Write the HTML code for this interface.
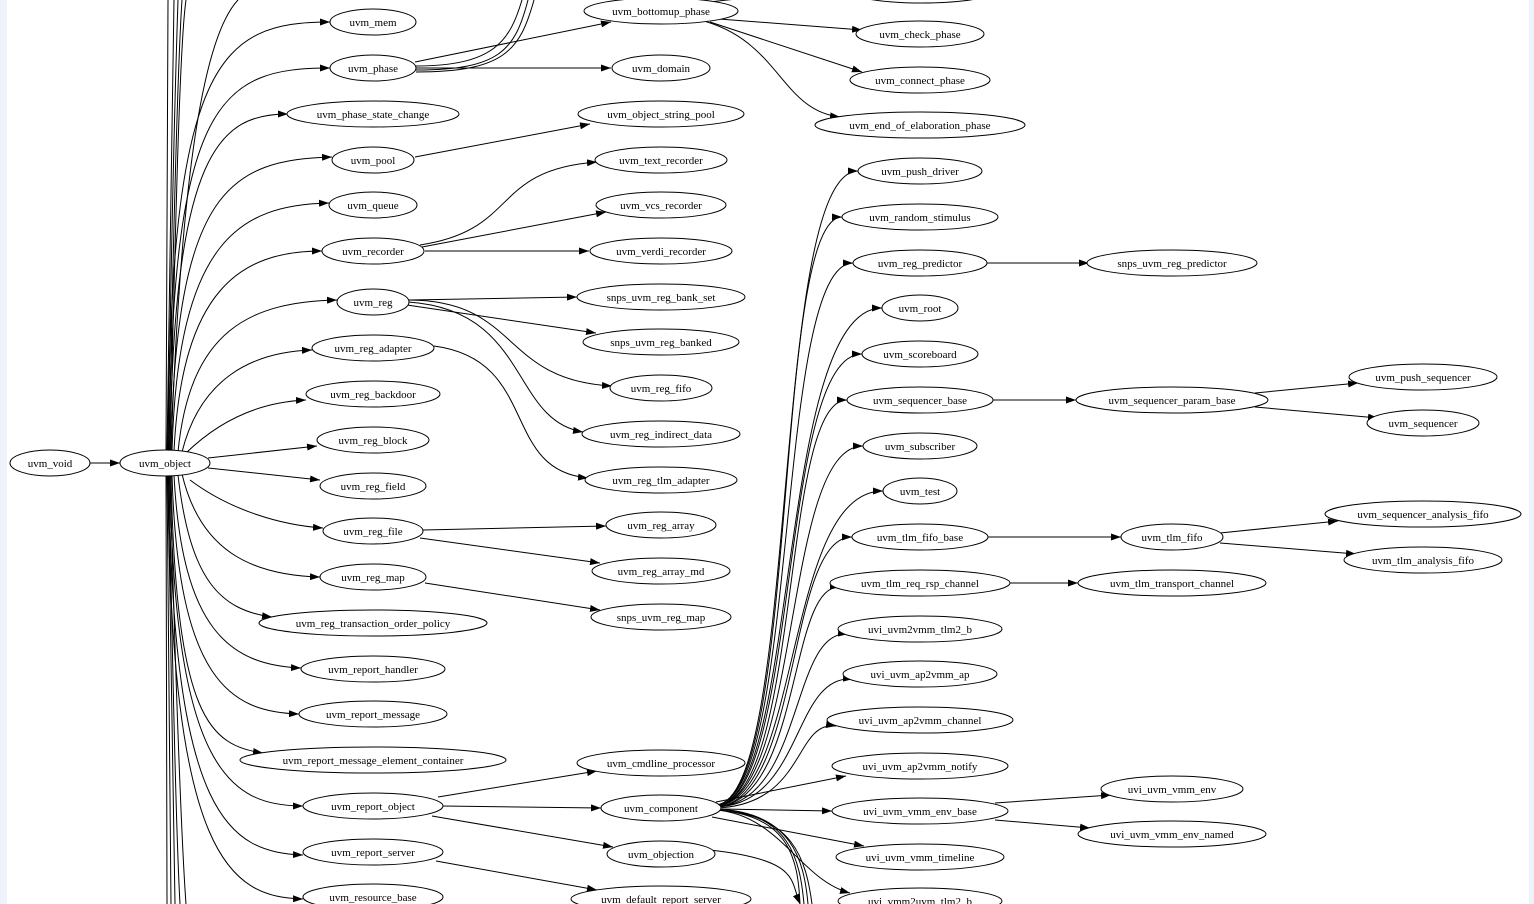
<!DOCTYPE html>
<html><head><meta charset="utf-8"><style>
html,body{margin:0;padding:0;background:#fff}
body{width:1534px;height:904px;overflow:hidden;position:relative}
.lb{position:absolute;left:0;top:0;width:7px;height:904px;background:#eef2fa}
.rb{position:absolute;right:0;top:0;width:5px;height:904px;background:#eef2fa}
svg{position:absolute;left:0;top:0}
text{font-family:"Liberation Serif",serif;font-size:11px;fill:#000}
ellipse{fill:#fff;stroke:#000;stroke-width:1}
path{fill:none;stroke:#000;stroke-width:1}
</style></head><body>
<div class="lb"></div><div class="rb"></div>
<svg width="1534" height="904" viewBox="0 0 1534 904">
<defs><marker id="a" markerWidth="10" markerHeight="7" refX="10" refY="3.5" orient="auto" markerUnits="userSpaceOnUse"><path d="M0,0L10,3.5L0,7z" style="fill:#000;stroke:none"/></marker></defs>
<g marker-end="url(#a)">
<path d="M90,463 L120,463"/>
<!-- object to col1 -->
<path d="M168,451 C170,60 220,22 330,22"/>
<path d="M169,451 C172,100 220,68 330,68"/>
<path d="M170,451 C174,150 220,114 288,114"/>
<path d="M171,451 C176,190 230,160 332,157"/>
<path d="M172,451 C178,240 240,205 329,203"/>
<path d="M174,451 C182,290 240,251 322,251"/>
<path d="M178,452 C190,330 250,302 337,300"/>
<path d="M182,452 C200,380 250,352 312,350"/>
<path d="M186,453 C220,420 260,402 306,400"/>
<path d="M208,458 L317,446"/>
<path d="M208,468 L320,480"/>
<path d="M190,480 C230,510 280,525 323,528"/>
<path d="M182,474 C200,550 250,575 320,577"/>
<path d="M178,475 C190,580 220,610 272,617"/>
<path d="M174,475 C182,630 230,665 301,668"/>
<path d="M172,475 C178,680 230,712 299,714"/>
<path d="M171,475 C176,720 210,745 263,753"/>
<path d="M170,475 C174,770 230,806 303,806"/>
<path d="M169,475 C172,820 230,852 303,855"/>
<path d="M168,475 C170,860 230,897 303,899"/>
<!-- phase & friends -->
<path d="M415,62 L611,22"/>
<path d="M416,68 L611,68"/>
<path d="M415,157 L590,124"/>
<path d="M420,245 C520,230 490,170 597,162"/>
<path d="M422,247 L606,212"/>
<path d="M425,251 L589,251"/>
<path d="M409,300 L577,297"/>
<path d="M407,305 L596,333"/>
<path d="M408,300 C520,300 500,380 612,386"/>
<path d="M408,302 C530,310 510,420 583,432"/>
<path d="M434,346 C540,360 500,470 588,478"/>
<path d="M423,530 L606,526"/>
<path d="M420,538 L600,563"/>
<path d="M425,583 L600,610"/>
<path d="M438,797 L597,771"/>
<path d="M443,806 L601,808"/>
<path d="M432,816 L613,847"/>
<path d="M436,861 L597,890"/>
<!-- bottomup -->
<path d="M706,18 L862,30"/>
<path d="M710,22 L862,72"/>
<path d="M700,20 C780,40 780,110 840,117"/>
<!-- col3 to col4 -->
<path d="M987,263 L1089,263"/>
<path d="M993,400 L1076,400"/>
<path d="M1255,393 L1358,383"/>
<path d="M1255,407 L1378,418"/>
<path d="M988,537 L1121,537"/>
<path d="M1220,533 L1338,521"/>
<path d="M1220,543 L1356,554"/>
<path d="M1010,583 L1078,583"/>
<path d="M995,803 L1111,795"/>
<path d="M995,820 L1090,828"/>
<!-- component fan -->
<path d="M716,805 C800,800 770,171 858,171"/>
<path d="M716,805 C800,800 772,217 842,217"/>
<path d="M716,805 C800,800 774,263 853,263"/>
<path d="M716,806 C800,800 776,308 882,308"/>
<path d="M716,806 C800,800 778,354 862,354"/>
<path d="M716,806 C802,800 780,400 847,400"/>
<path d="M716,806 C802,800 782,446 863,446"/>
<path d="M716,806 C802,801 784,491 883,491"/>
<path d="M716,807 C802,801 786,537 852,537"/>
<path d="M716,807 C802,802 788,583 840,587"/>
<path d="M716,807 C804,803 790,629 848,634"/>
<path d="M716,807 C804,804 792,674 853,679"/>
<path d="M716,808 C806,805 794,720 836,726"/>
<path d="M716,802 L846,776"/>
<path d="M721,809 L832,811"/>
<path d="M712,817 L864,846"/>
<path d="M716,810 C780,815 800,880 850,893"/>
<path d="M710,850 C800,860 790,880 800,904"/>
</g>
<!-- unmarked edges off-screen -->
<path d="M166,451 L168,0"/><path d="M167,451 C170,200 172,80 174,0"/><path d="M168,451 C172,200 176,60 178,0"/><path d="M169,451 C174,200 178,60 182,0"/><path d="M170,451 C176,200 180,40 186,0"/><path d="M171,451 C180,200 200,40 238,0"/>
<path d="M166,475 L167,904"/><path d="M167,475 C169,700 170,850 171,904"/><path d="M168,475 C171,700 173,850 175,904"/><path d="M169,475 C173,700 177,850 180,904"/><path d="M170,475 C176,700 182,850 186,904"/>
<path d="M416,70 C500,70 515,50 528,0"/><path d="M416,72 C505,72 520,50 534,0"/><path d="M416,66 C495,66 510,40 522,0"/>
<path d="M700,3 L800,-8"/>
<path d="M716,809 C790,812 800,860 804,904"/><path d="M716,809 C792,812 804,860 808,904"/><path d="M716,810 C794,814 806,860 812,904"/><path d="M716,810 C790,815 798,860 800,904"/>
<g>
<ellipse cx="50" cy="463" rx="40" ry="13"/><text x="50" y="467" text-anchor="middle">uvm_void</text>
<ellipse cx="165" cy="463" rx="45" ry="13"/><text x="165" y="467" text-anchor="middle">uvm_object</text>

<ellipse cx="373" cy="22" rx="43" ry="13"/><text x="373" y="26" text-anchor="middle">uvm_mem</text>
<ellipse cx="373" cy="68" rx="43" ry="13"/><text x="373" y="72" text-anchor="middle">uvm_phase</text>
<ellipse cx="373" cy="114" rx="86" ry="13"/><text x="373" y="118" text-anchor="middle">uvm_phase_state_change</text>
<ellipse cx="373" cy="160" rx="41" ry="13"/><text x="373" y="164" text-anchor="middle">uvm_pool</text>
<ellipse cx="373" cy="205" rx="44" ry="13"/><text x="373" y="209" text-anchor="middle">uvm_queue</text>
<ellipse cx="373" cy="251" rx="51" ry="13"/><text x="373" y="255" text-anchor="middle">uvm_recorder</text>
<ellipse cx="373" cy="302" rx="36" ry="13"/><text x="373" y="306" text-anchor="middle">uvm_reg</text>
<ellipse cx="373" cy="348" rx="61" ry="13"/><text x="373" y="352" text-anchor="middle">uvm_reg_adapter</text>
<ellipse cx="373" cy="394" rx="67" ry="13"/><text x="373" y="398" text-anchor="middle">uvm_reg_backdoor</text>
<ellipse cx="373" cy="440" rx="56" ry="13"/><text x="373" y="444" text-anchor="middle">uvm_reg_block</text>
<ellipse cx="373" cy="486" rx="53" ry="13"/><text x="373" y="490" text-anchor="middle">uvm_reg_field</text>
<ellipse cx="373" cy="531" rx="50" ry="13"/><text x="373" y="535" text-anchor="middle">uvm_reg_file</text>
<ellipse cx="373" cy="577" rx="53" ry="13"/><text x="373" y="581" text-anchor="middle">uvm_reg_map</text>
<ellipse cx="373" cy="623" rx="114" ry="13"/><text x="373" y="627" text-anchor="middle">uvm_reg_transaction_order_policy</text>
<ellipse cx="373" cy="669" rx="72" ry="13"/><text x="373" y="673" text-anchor="middle">uvm_report_handler</text>
<ellipse cx="373" cy="714" rx="74" ry="13"/><text x="373" y="718" text-anchor="middle">uvm_report_message</text>
<ellipse cx="373" cy="760" rx="133" ry="13"/><text x="373" y="764" text-anchor="middle">uvm_report_message_element_container</text>
<ellipse cx="373" cy="806" rx="70" ry="13"/><text x="373" y="810" text-anchor="middle">uvm_report_object</text>
<ellipse cx="373" cy="852" rx="70" ry="13"/><text x="373" y="856" text-anchor="middle">uvm_report_server</text>
<ellipse cx="373" cy="897" rx="70" ry="13"/><text x="373" y="901" text-anchor="middle">uvm_resource_base</text>

<ellipse cx="661" cy="11" rx="77" ry="13"/><text x="661" y="15" text-anchor="middle">uvm_bottomup_phase</text>
<ellipse cx="661" cy="68" rx="49" ry="13"/><text x="661" y="72" text-anchor="middle">uvm_domain</text>
<ellipse cx="661" cy="114" rx="83" ry="13"/><text x="661" y="118" text-anchor="middle">uvm_object_string_pool</text>
<ellipse cx="661" cy="160" rx="66" ry="13"/><text x="661" y="164" text-anchor="middle">uvm_text_recorder</text>
<ellipse cx="661" cy="205" rx="65" ry="13"/><text x="661" y="209" text-anchor="middle">uvm_vcs_recorder</text>
<ellipse cx="661" cy="251" rx="71" ry="13"/><text x="661" y="255" text-anchor="middle">uvm_verdi_recorder</text>
<ellipse cx="661" cy="297" rx="84" ry="13"/><text x="661" y="301" text-anchor="middle">snps_uvm_reg_bank_set</text>
<ellipse cx="661" cy="342" rx="78" ry="13"/><text x="661" y="346" text-anchor="middle">snps_uvm_reg_banked</text>
<ellipse cx="661" cy="388" rx="51" ry="13"/><text x="661" y="392" text-anchor="middle">uvm_reg_fifo</text>
<ellipse cx="661" cy="434" rx="79" ry="13"/><text x="661" y="438" text-anchor="middle">uvm_reg_indirect_data</text>
<ellipse cx="661" cy="480" rx="76" ry="13"/><text x="661" y="484" text-anchor="middle">uvm_reg_tlm_adapter</text>
<ellipse cx="661" cy="525" rx="55" ry="13"/><text x="661" y="529" text-anchor="middle">uvm_reg_array</text>
<ellipse cx="661" cy="571" rx="69" ry="13"/><text x="661" y="575" text-anchor="middle">uvm_reg_array_md</text>
<ellipse cx="661" cy="617" rx="70" ry="13"/><text x="661" y="621" text-anchor="middle">snps_uvm_reg_map</text>
<ellipse cx="661" cy="763" rx="84" ry="13"/><text x="661" y="767" text-anchor="middle">uvm_cmdline_processor</text>
<ellipse cx="661" cy="808" rx="60" ry="13"/><text x="661" y="812" text-anchor="middle">uvm_component</text>
<ellipse cx="661" cy="854" rx="54" ry="13"/><text x="661" y="858" text-anchor="middle">uvm_objection</text>
<ellipse cx="661" cy="899" rx="90" ry="13"/><text x="661" y="903" text-anchor="middle">uvm_default_report_server</text>

<ellipse cx="922" cy="-10" rx="75" ry="13"/>
<ellipse cx="920" cy="34" rx="64" ry="13"/><text x="920" y="38" text-anchor="middle">uvm_check_phase</text>
<ellipse cx="920" cy="80" rx="70" ry="13"/><text x="920" y="84" text-anchor="middle">uvm_connect_phase</text>
<ellipse cx="920" cy="125" rx="105" ry="13"/><text x="920" y="129" text-anchor="middle">uvm_end_of_elaboration_phase</text>
<ellipse cx="920" cy="171" rx="62" ry="13"/><text x="920" y="175" text-anchor="middle">uvm_push_driver</text>
<ellipse cx="920" cy="217" rx="78" ry="13"/><text x="920" y="221" text-anchor="middle">uvm_random_stimulus</text>
<ellipse cx="920" cy="263" rx="67" ry="13"/><text x="920" y="267" text-anchor="middle">uvm_reg_predictor</text>
<ellipse cx="920" cy="308" rx="38" ry="13"/><text x="920" y="312" text-anchor="middle">uvm_root</text>
<ellipse cx="920" cy="354" rx="58" ry="13"/><text x="920" y="358" text-anchor="middle">uvm_scoreboard</text>
<ellipse cx="920" cy="400" rx="73" ry="13"/><text x="920" y="404" text-anchor="middle">uvm_sequencer_base</text>
<ellipse cx="920" cy="446" rx="57" ry="13"/><text x="920" y="450" text-anchor="middle">uvm_subscriber</text>
<ellipse cx="920" cy="491" rx="37" ry="13"/><text x="920" y="495" text-anchor="middle">uvm_test</text>
<ellipse cx="920" cy="537" rx="68" ry="13"/><text x="920" y="541" text-anchor="middle">uvm_tlm_fifo_base</text>
<ellipse cx="920" cy="583" rx="90" ry="13"/><text x="920" y="587" text-anchor="middle">uvm_tlm_req_rsp_channel</text>
<ellipse cx="920" cy="629" rx="82" ry="13"/><text x="920" y="633" text-anchor="middle">uvi_uvm2vmm_tlm2_b</text>
<ellipse cx="920" cy="674" rx="77" ry="13"/><text x="920" y="678" text-anchor="middle">uvi_uvm_ap2vmm_ap</text>
<ellipse cx="920" cy="720" rx="93" ry="13"/><text x="920" y="724" text-anchor="middle">uvi_uvm_ap2vmm_channel</text>
<ellipse cx="920" cy="766" rx="88" ry="13"/><text x="920" y="770" text-anchor="middle">uvi_uvm_ap2vmm_notify</text>
<ellipse cx="920" cy="811" rx="88" ry="13"/><text x="920" y="815" text-anchor="middle">uvi_uvm_vmm_env_base</text>
<ellipse cx="920" cy="857" rx="84" ry="13"/><text x="920" y="861" text-anchor="middle">uvi_uvm_vmm_timeline</text>
<ellipse cx="920" cy="901" rx="82" ry="13"/><text x="920" y="905" text-anchor="middle">uvi_vmm2uvm_tlm2_b</text>

<ellipse cx="1172" cy="263" rx="85" ry="13"/><text x="1172" y="267" text-anchor="middle">snps_uvm_reg_predictor</text>
<ellipse cx="1172" cy="400" rx="96" ry="13"/><text x="1172" y="404" text-anchor="middle">uvm_sequencer_param_base</text>
<ellipse cx="1172" cy="537" rx="51" ry="13"/><text x="1172" y="541" text-anchor="middle">uvm_tlm_fifo</text>
<ellipse cx="1172" cy="583" rx="94" ry="13"/><text x="1172" y="587" text-anchor="middle">uvm_tlm_transport_channel</text>
<ellipse cx="1172" cy="789" rx="71" ry="13"/><text x="1172" y="793" text-anchor="middle">uvi_uvm_vmm_env</text>
<ellipse cx="1172" cy="834" rx="94" ry="13"/><text x="1172" y="838" text-anchor="middle">uvi_uvm_vmm_env_named</text>

<ellipse cx="1423" cy="377" rx="74" ry="13"/><text x="1423" y="381" text-anchor="middle">uvm_push_sequencer</text>
<ellipse cx="1423" cy="423" rx="56" ry="13"/><text x="1423" y="427" text-anchor="middle">uvm_sequencer</text>
<ellipse cx="1423" cy="514" rx="98" ry="13"/><text x="1423" y="518" text-anchor="middle">uvm_sequencer_analysis_fifo</text>
<ellipse cx="1423" cy="560" rx="79" ry="13"/><text x="1423" y="564" text-anchor="middle">uvm_tlm_analysis_fifo</text>
</g>
</svg>
</body></html>
